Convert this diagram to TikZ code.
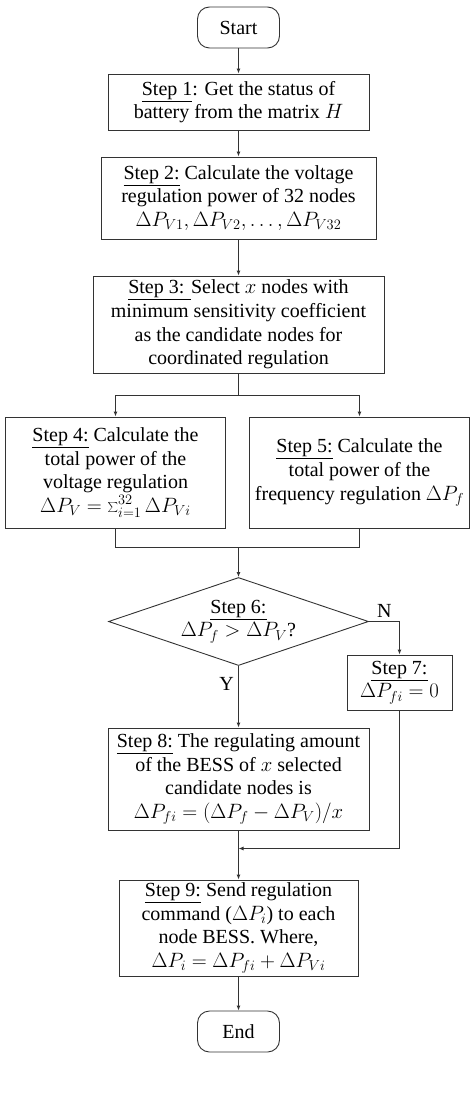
\documentclass[tikz,border=0pt]{standalone}
\usepackage{fontspec}
\setmainfont{Liberation Serif}
\usetikzlibrary{shapes.geometric,arrows.meta}

\tikzset{
	stepbox/.style={draw=black!80, line width=0.9pt, align=center, inner sep=1pt,
		font=\fontsize{20}{23.6}\selectfont},
	termbox/.style={stepbox, rounded corners=12pt, minimum width=82pt, minimum height=41pt},
	decision/.style={draw=black!80, line width=0.9pt, diamond, inner sep=0pt},
	flow/.style={draw=black!80, line width=0.9pt, -{Latex[length=5pt,width=4pt]}},
	link/.style={draw=black!80, line width=0.9pt},
	yesno/.style={font=\fontsize{20}{24}\selectfont}
}

\begin{document}
\begin{tikzpicture}[x=1pt, y=-1pt]
		\useasboundingbox (0,0) rectangle (474,1094);
		\node (start) [termbox] at (238.5,27.5) {Start};
		\node (s1) [stepbox, minimum width=261pt, minimum height=56pt] at (238.5,102)
		{\underline{Step 1}: Get the status of\\ battery from the matrix $H$};
		\node (s2) [stepbox, minimum width=275pt, minimum height=82pt] at (238.5,198)
		{\underline{Step 2:} Calculate the voltage\\ regulation power of 32 nodes\\
			$\Delta P_{V1}, \Delta P_{V2}, \ldots, \Delta P_{V32}$};
		\node (s3) [stepbox, minimum width=291pt, minimum height=97pt] at (238.5,324.5)
		{\underline{Step 3: }Select $x$ nodes with\\ minimum sensitivity coefficient\\
			as the candidate nodes for\\ coordinated regulation};
		\node (s4) [stepbox, minimum width=220pt, minimum height=111pt] at (115.5,472.5)
		{\underline{Step 4:} Calculate the\\ total power of the\\ voltage regulation\\
			$\Delta P_V = \sum_{i=1}^{32} \Delta P_{Vi}$};
		\node (s5) [stepbox, minimum width=220pt, minimum height=111pt] at (359.5,472.5)
		{\underline{Step 5:} Calculate the\\ total power of the\\
			frequency regulation $\Delta P_f$};
		\node (s6) [decision, minimum width=260pt, minimum height=88pt] at (238.5,621.5) {};
		\node (s6txt) [stepbox, draw=none] at (s6) {\underline{Step 6:}\\ $\Delta P_f > \Delta P_V$?};
		\node (s7) [stepbox, minimum width=105pt, minimum height=55pt] at (399.5,682.5)
		{\underline{Step 7:}\\ $\Delta P_{fi} = 0$};
		\node (s8) [stepbox, minimum width=261pt, minimum height=102pt] at (238.5,779)
		{\underline{Step 8:} The regulating amount\\ of the BESS of $x$ selected\\
			candidate nodes is\\ $\Delta P_{fi} = (\Delta P_f - \Delta P_V)/x$};
		\node (s9) [stepbox, minimum width=239pt, minimum height=96pt] at (238.5,928)
		{\underline{Step 9:} Send regulation\\ command ($\Delta P_i$) to each\\
			node BESS. Where,\\ $\Delta P_i = \Delta P_{fi} + \Delta P_{Vi}$};
		\node (end) [termbox] at (238.5,1031.5) {End};

		\coordinate (split) at (238.5,395.5);
		\coordinate (merge) at (238.5,547.5);
		\coordinate (back) at (238.5,848.5);

		\draw [flow] (start) -- (s1);
		\draw [flow] (s1) -- (s2);
		\draw [flow] (s2) -- (s3);
		\draw [link] (s3.south) -- (split);
		\draw [flow] (split) -| (s4.north);
		\draw [flow] (split) -| (s5.north);
		\draw [link] (s4.south) |- (merge) -| (s5.south);
		\draw [flow] (merge) -- (s6.north);
		\draw [flow] (s6.east) -| node [yesno, above, pos=0.25] {N} (s7.north);
		\draw [flow] (s6.south) -- node [yesno, left, pos=0.3, xshift=-1pt] {Y} (s8.north);
		\draw [flow] (s7.south) |- (back);
		\draw [flow] (s8) -- (s9);
		\draw [flow] (s9) -- (end);
		\end{tikzpicture}
\end{document}
